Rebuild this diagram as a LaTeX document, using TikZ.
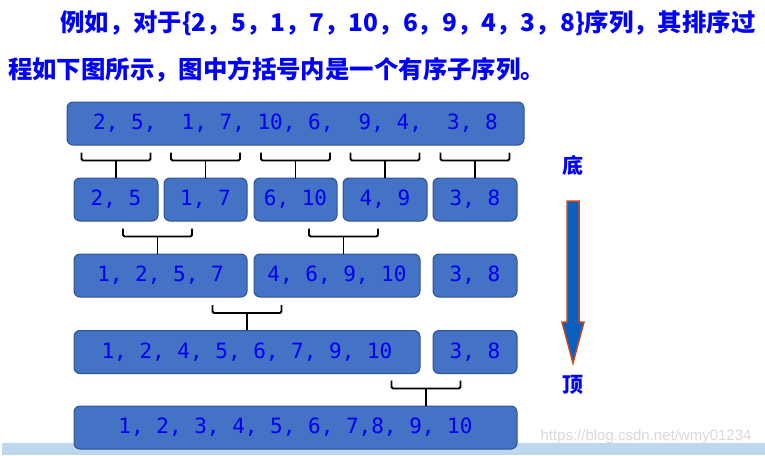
\documentclass[tikz,border=0pt]{standalone}
\usepackage{fontspec}
\newfontfamily\cjk{Noto Sans CJK SC}
\newfontfamily\mono{DejaVu Sans Mono}
\newfontfamily\marksans{Liberation Sans}
\usetikzlibrary{positioning,calc}
\definecolor{boxfill}{HTML}{4472C4}
\definecolor{boxline}{HTML}{2F528F}
\definecolor{numblue}{HTML}{0000F0}
\definecolor{titleblue}{HTML}{0000FF}
\definecolor{arrowfill}{HTML}{0A5FC0}
\definecolor{arrowline}{HTML}{C8461A}
\definecolor{stripblue}{HTML}{BDD7EE}
\definecolor{markgray}{HTML}{D9D9D9}
% merge bracket: stem x, child node
\newcommand\merge[2]{%
\draw[brace] (#1,0 |- #2.north) ++(-34.5,-25) -- ++(0,8) -- ++(69,0) -- ++(0,-8);
\draw[brace] (#1,0 |- #2.north) -- ++(0,-17);}
\begin{document}
\begin{tikzpicture}[x=1pt,y=-1pt,
numbox/.style={draw=boxline,fill=boxfill,line width=1pt,rounded corners=6pt,minimum height=43pt,inner sep=0pt,text=numblue,font=\mono\fontsize{21}{21}\selectfont},
brace/.style={line width=1.8pt,rounded corners=1.5pt},
title/.style={anchor=west,inner sep=0pt,text=titleblue,font=\cjk\bfseries\fontsize{24.4}{24.4}\selectfont},
side/.style={inner sep=0pt,text=titleblue,font=\cjk\bfseries\fontsize{21}{21}\selectfont}]
\useasboundingbox (0,0) rectangle (765,455);
\fill[stripblue] (2,443) rectangle (765,455);
\node[text=markgray,font=\marksans\fontsize{15}{15}\selectfont] (mark) at (646,437) {https://blog.csdn.net/wmy01234};

\node[title] (t1) at (60,23) {例如，对于\{2，5，1，7，10，6，9，4，3，8\}序列，其排序过};
\node[title] (t2) at (8,70) {程如下图所示，图中方括号内是一个有序子序列。};

% rows
\node[numbox,minimum width=457pt] (r1) at (295.5,123.5) {2, 5,~ 1, 7, 10, 6,~ 9, 4,~ 3, 8};

\node[numbox,minimum width=84pt] (a2) at (116,199.5) {2, 5};
\node[numbox,minimum width=83pt] (b2) at (205.5,199.5) {1, 7};
\node[numbox,minimum width=83pt] (c2) at (295.5,199.5) {6, 10};
\node[numbox,minimum width=84pt] (d2) at (385,199.5) {4, 9};
\node[numbox,minimum width=84pt] (e2) at (475,199.5) {3, 8};

\node[numbox,minimum width=173pt] (a3) at (160.5,275.5) {1, 2, 5, 7};
\node[numbox,minimum width=166pt] (b3) at (337,275.5) {4, 6, 9, 10};
\node[numbox,minimum width=84pt] (c3) at (475,275.5) {3, 8};

\node[numbox,minimum width=346pt] (a4) at (247,352) {1, 2, 4, 5, 6, 7, 9, 10};
\node[numbox,minimum width=84pt] (b4) at (475,352) {3, 8};

\node[numbox,minimum width=443pt] (r5) at (295.5,427.5) {1, 2, 3, 4, 5, 6, 7,8, 9, 10};

% brackets
\merge{116}{a2}
\merge{205.5}{b2}
\merge{295.5}{c2}
\merge{385}{d2}
\merge{475}{e2}
\merge{157.5}{a3}
\merge{343.5}{b3}
\merge{247}{a4}
\merge{426}{r5}

% direction
\node[side] (bottom) at (573,165) {底};
\node[side] (top) at (573,385) {顶};
\draw[fill=arrowfill,draw=arrowline,line width=1.5pt,line join=miter]
 (567,201) -- (579,201) -- (579,322) -- (584,322) -- (573,363) -- (562,322) -- (567,322) -- cycle;
\end{tikzpicture}
\end{document}
